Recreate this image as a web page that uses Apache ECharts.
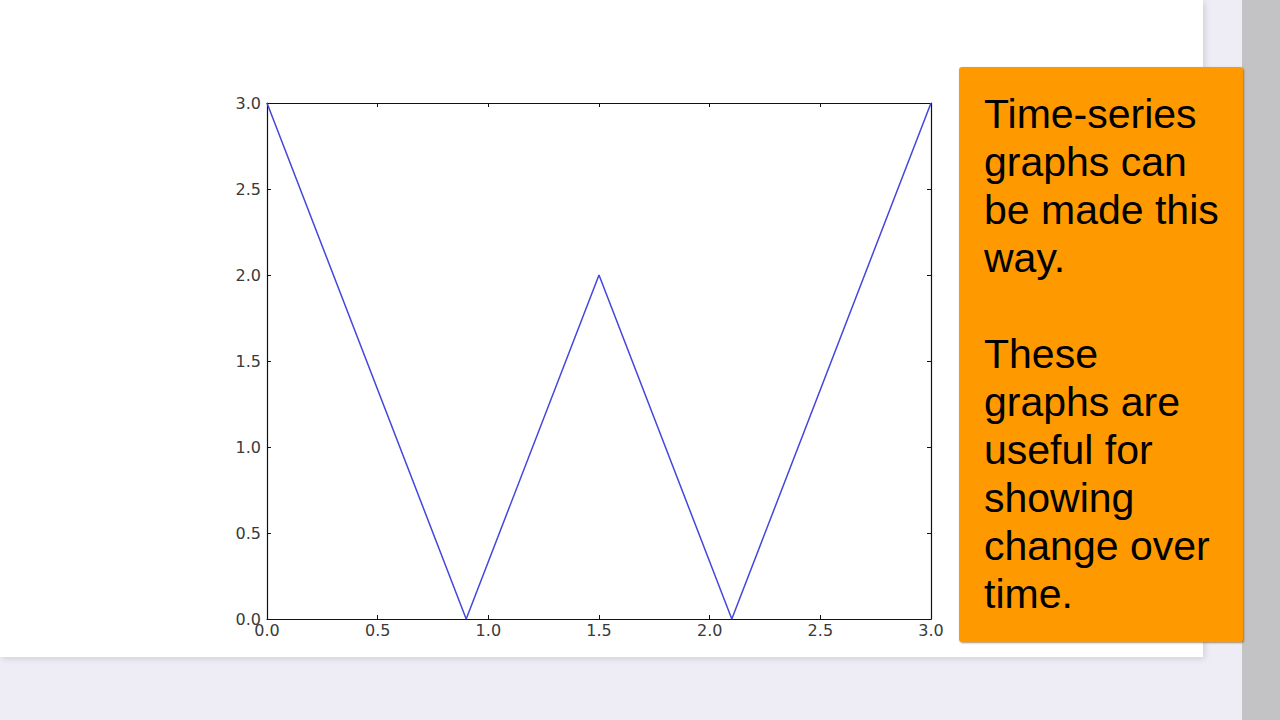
<!DOCTYPE html>
<html>
<head>
<meta charset="utf-8">
<script src="https://cdn.jsdelivr.net/npm/echarts@6/dist/echarts.min.js"></script>
<style>
html,body{margin:0;padding:0;width:1280px;height:720px;overflow:hidden;background:#eeedf5;}
#panel{position:absolute;left:0;top:0;width:1203px;height:657px;background:#fff;box-shadow:2px 2px 6px rgba(0,0,0,0.12);}
#strip{position:absolute;left:1242px;top:0;width:38px;height:720px;background:#c3c3c5;}
#chart{position:absolute;left:0;top:0;width:1280px;height:720px;}
#box{position:absolute;left:959px;top:67px;width:284px;height:575px;background:#ff9900;border-radius:3px;
 box-shadow:1px 1px 2px rgba(120,70,0,0.6);box-sizing:border-box;padding:23px 0 0 25px;
 font-family:"Liberation Sans",Arial,sans-serif;font-size:41px;line-height:48px;color:#000;white-space:nowrap;}
</style>
</head>
<body>
<div id="panel"></div>
<div id="strip"></div>
<div id="chart"></div>
<div id="box">Time-series<br>graphs can<br>be made this<br>way.<br><br>These<br>graphs are<br>useful for<br>showing<br>change over<br>time.</div>
<script>
var xValues = [0, 0.9, 1.5, 2.1, 3.0];
var yValues = [3, 0, 2, 0, 3];
var xTicks = ['0.0','0.5','1.0','1.5','2.0','2.5','3.0'];
var yTicks = ['0.0','0.5','1.0','1.5','2.0','2.5','3.0'];

var chart = echarts.init(document.getElementById('chart'), null, {renderer:'svg'});
var labelFont = {fontFamily:'DejaVu Sans', fontSize:16, color:'#3a3a3a'};
function fmt(v){ return v.toFixed(1); }
var axisCommon = {
  type:'value', min:0, max:3, interval:0.5,
  splitLine:{show:false},
  axisLine:{show:true, onZero:false, lineStyle:{color:'#111', width:1.2}},
  axisTick:{show:true, inside:true, length:4, lineStyle:{color:'#111'}}
};
chart.setOption({
  animation:false,
  grid:{left:267, top:103, width:664, height:516, containLabel:false},
  xAxis:[
    Object.assign({}, axisCommon, {position:'bottom',
      axisLabel:Object.assign({margin:3, formatter:fmt}, labelFont)}),
    Object.assign({}, axisCommon, {position:'top', axisLabel:{show:false}})
  ],
  yAxis:[
    Object.assign({}, axisCommon, {position:'left',
      axisLabel:Object.assign({margin:6, formatter:fmt}, labelFont)}),
    Object.assign({}, axisCommon, {position:'right', axisLabel:{show:false}})
  ],
  series:[{
    type:'line',
    data:xValues.map(function(x,i){return [x, yValues[i]];}),
    showSymbol:false,
    lineStyle:{color:'#4545e0', width:1.5},
    clip:false
  }]
});
</script>
</body>
</html>
